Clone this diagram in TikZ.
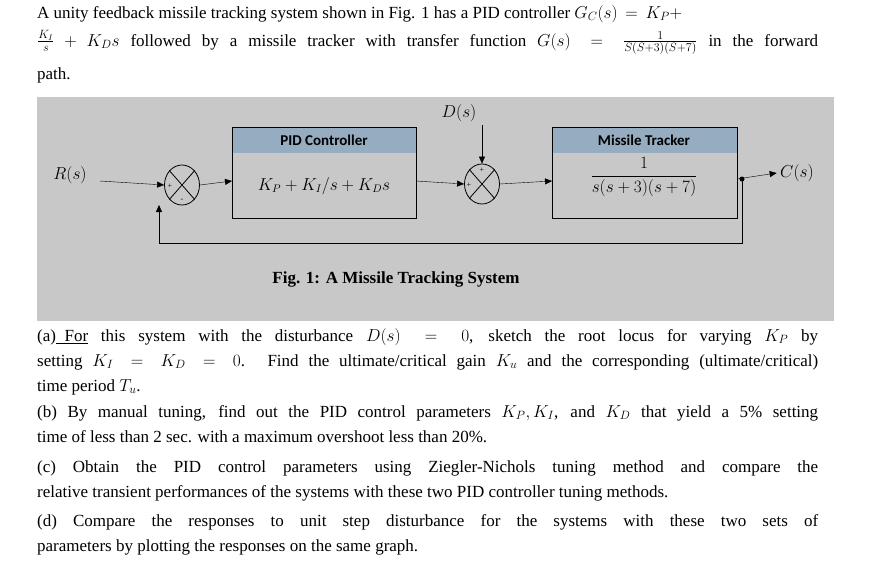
\documentclass[tikz,border=0pt]{standalone}
\usepackage{amsmath}
\usepackage{fontspec}
\setmainfont{Liberation Serif}
\setsansfont{Carlito}
\usetikzlibrary{arrows.meta,shapes.geometric}
\definecolor{bg}{RGB}{200,200,200}
\definecolor{hdr}{RGB}{150,172,192}
\tikzset{
 ln/.style={anchor=base west,inner sep=0pt,font=\fontsize{17}{20}\selectfont},
 blk/.style={draw,thick},
 sumj/.style={draw,thick,ellipse,minimum width=35pt,minimum height=40pt,inner sep=0pt},
 arr/.style={-{Triangle[length=7pt,width=6pt]},thin},
 lab/.style={font=\fontsize{16}{18}\selectfont}
}
\newcommand{\jl}[1]{\parbox[b]{781pt}{\parfillskip=0pt\relax #1}}
\begin{document}
\begin{tikzpicture}[x=1pt,y=-1pt]
\useasboundingbox (0,0) rectangle (881,571);
% text above
\node[ln] (l1) at (37,18) {A unity feedback missile tracking system shown in Fig. 1 has a PID controller $G_C(s)\,=\,K_P+$};
\node[ln] (l2) at (37,46) {\jl{$\frac{K_I}{s}+K_Ds$ followed by a missile tracker with transfer function $G(s)=\frac{1}{S(S+3)(S+7)}$ in the forward}};
\node[ln] (l3) at (37,79) {path.};
% background
\fill[bg] (37,97) rectangle (834,321);
% blocks
\fill[hdr] (232,127) rectangle (416,153);
\draw[blk] (232,127) rectangle (416,218);
\node[font=\sffamily\bfseries\fontsize{15}{17}\selectfont] (pidh) at (324,140) {PID Controller};
\node[lab] (pid) at (324,186) {$K_P+K_I/s+K_Ds$};
\fill[hdr] (552,127) rectangle (737,153);
\draw[blk] (552,127) rectangle (737,218);
\node[font=\sffamily\bfseries\fontsize{15}{17}\selectfont] (mth) at (644,140) {Missile Tracker};
\node[lab] (mt) at (644,177) {$\dfrac{1}{s(s+3)(s+7)}$};
% summing junctions
\node[sumj] (s1) at (182,185) {};
\draw[thick] (s1.north west)--(s1.south east) (s1.north east)--(s1.south west);
\node[font=\footnotesize] at (170,186) {+};
\node[font=\footnotesize] at (182,200) {-};
\node[sumj] (s2) at (482,184) {};
\draw[thick] (s2.north west)--(s2.south east) (s2.north east)--(s2.south west);
\node[font=\footnotesize] at (482,170) {+};
\node[font=\footnotesize] at (469,185) {+};
% labels
\node[lab] (R) at (70,175) {$R(s)$};
\node[lab] (D) at (459,113) {$D(s)$};
\node[lab] (C) at (797,173) {$C(s)$};
\coordinate (tap) at (742,179);
\fill (tap) circle (2.5);
% connectors
\draw[arr] (100,181) -- (s1.west);
\draw[arr] (s1.east) -- (232,181);
\draw[arr] (416,181) -- (s2.west);
\draw[arr] (482,125) -- (s2.north);
\draw[arr] (s2.east) -- (552,181);
\draw[arr] (737,179) -- (C.west);
\draw[arr] (tap) -- (742,243) -- (159,243) -- (159,205);
% caption
\node[font=\bfseries\fontsize{17}{20}\selectfont] (cap) at (396,279) {Fig. 1: A Missile Tracking System};
% questions
\node[ln] at (37,341) {\jl{(a)\underline{\ \ For} this system with the disturbance $D(s)=0$, sketch the root locus for varying $K_P$ by}};
\node[ln] at (37,366) {\jl{setting $K_I=K_D=0$. Find the ultimate/critical gain $K_u$ and the corresponding (ultimate/critical)}};
\node[ln] at (37,391) {time period $T_u$.};
\node[ln] at (37,417) {\jl{(b) By manual tuning, find out the PID control parameters $K_P, K_I$, and $K_D$ that yield a 5\% setting}};
\node[ln] at (37,442) {time of less than 2 sec. with a maximum overshoot less than 20\%.};
\node[ln] at (37,472) {\jl{(c) Obtain the PID control parameters using Ziegler-Nichols tuning method and compare the}};
\node[ln] at (37,497) {relative transient performances of the systems with these two PID controller tuning methods.};
\node[ln] at (37,526) {\jl{(d) Compare the responses to unit step disturbance for the systems with these two sets of}};
\node[ln] at (37,551) {parameters by plotting the responses on the same graph.};
\end{tikzpicture}
\end{document}
